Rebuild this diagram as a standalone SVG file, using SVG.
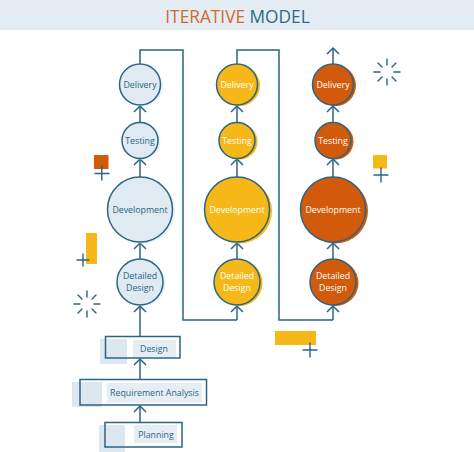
<svg xmlns="http://www.w3.org/2000/svg" width="474" height="452" viewBox="0 0 474 452">
<defs>
<marker id="ah" markerUnits="userSpaceOnUse" markerWidth="16" markerHeight="16" viewBox="-8 -8 16 16" refX="0" refY="0" orient="auto">
<path d="M-6,-6 L0,0 L-6,6" fill="none" stroke="#2b6584" stroke-width="1.5"/>
</marker>
</defs>
<style>
.ln{fill:none;stroke:#2b6584;stroke-width:1.5}
.ar{fill:none;stroke:#2b6584;stroke-width:1.5;marker-end:url(#ah)}
.c1{fill:#dfeaf2;stroke:#2b6584;stroke-width:1.5}
.s1{fill:#e8f1f7}
.c2{fill:#f6b818;stroke:#2b6584;stroke-width:1.5}
.s2{fill:#f6b818}
.c3{fill:#d25a0b;stroke:#2b6584;stroke-width:1.5}
.s3{fill:#d25a0b}
.t{font-family:"Open Sans","Noto Sans",sans-serif;font-size:8.8px;text-anchor:middle}
.t1{fill:#2b6584}
.tw{fill:#ffffff}
.bx{fill:none;stroke:#2b6584;stroke-width:1.5}
.sh{fill:#dce7f0}
.lb{fill:#e6eef4}
.dec{fill:none;stroke:#2b6584;stroke-width:1.4;stroke-linecap:round}
</style>
<rect x="0" y="0" width="474" height="30" fill="#e4edf4"/>
<text x="237.5" y="22.5" font-family="'Open Sans','Noto Sans',sans-serif" font-size="17.3" text-anchor="middle"><tspan fill="#d4682a">ITERATIVE</tspan><tspan fill="#2b6a8c"> MODEL</tspan></text>

<g id="connectors">
<path class="ln" d="M140,64 V50 H183 V320 H237"/>
<path class="ar" d="M237,320 V306"/>
<path class="ln" d="M237,64 V50 H279 V320 H333"/>
<path class="ar" d="M333,320 V306"/>
<path class="ar" d="M333,64 V48"/>
<path class="ar" d="M140,122 V106"/>
<path class="ar" d="M140,177 V159"/>
<path class="ar" d="M140,259 V243"/>
<path class="ar" d="M237,122 V106"/>
<path class="ar" d="M237,177 V159"/>
<path class="ar" d="M237,259 V243"/>
<path class="ar" d="M333,122 V106"/>
<path class="ar" d="M333,177 V159"/>
<path class="ar" d="M333,259 V243"/>
<path class="ar" d="M140,336 V306"/>
<path class="ar" d="M140,379 V359"/>
<path class="ar" d="M140,422 V406"/>
</g>

<g id="c1-delivery"><circle class="s1" cx="142.5" cy="85.5" r="20.5"/><circle class="c1" cx="140" cy="84.5" r="20.5"/><text class="t t1" x="140" y="87.5">Delivery</text></g>
<g id="c1-testing"><circle class="s1" cx="142.5" cy="141.5" r="18"/><circle class="c1" cx="140" cy="140.5" r="18"/><text class="t t1" x="140" y="143.5">Testing</text></g>
<g id="c1-development"><circle class="s1" cx="142.5" cy="211" r="32.5"/><circle class="c1" cx="140" cy="209.5" r="32.5"/><text class="t t1" x="140" y="212.5">Development</text></g>
<g id="c1-detailed"><circle class="s1" cx="142.5" cy="283" r="23"/><circle class="c1" cx="140" cy="282" r="23"/><text class="t t1" x="140" y="279">Detailed</text><text class="t t1" x="140" y="291">Design</text></g>

<g id="c2-delivery"><circle class="s2" cx="239.5" cy="85.5" r="20.5"/><circle class="c2" cx="237" cy="84.5" r="20.5"/><text class="t tw" x="237" y="87.5">Delivery</text></g>
<g id="c2-testing"><circle class="s2" cx="239.5" cy="141.5" r="18"/><circle class="c2" cx="237" cy="140.5" r="18"/><text class="t tw" x="237" y="143.5">Testing</text></g>
<g id="c2-development"><circle class="s2" cx="239.5" cy="211" r="32.5"/><circle class="c2" cx="237" cy="209.5" r="32.5"/><text class="t tw" x="237" y="212.5">Development</text></g>
<g id="c2-detailed"><circle class="s2" cx="239.5" cy="283" r="23"/><circle class="c2" cx="237" cy="282" r="23"/><text class="t tw" x="237" y="279">Detailed</text><text class="t tw" x="237" y="291">Design</text></g>

<g id="c3-delivery"><circle class="s3" cx="335.5" cy="85.5" r="20.5"/><circle class="c3" cx="333" cy="84.5" r="20.5"/><text class="t tw" x="333" y="87.5">Delivery</text></g>
<g id="c3-testing"><circle class="s3" cx="335.5" cy="141.5" r="18"/><circle class="c3" cx="333" cy="140.5" r="18"/><text class="t tw" x="333" y="143.5">Testing</text></g>
<g id="c3-development"><circle class="s3" cx="335.5" cy="211" r="32.5"/><circle class="c3" cx="333" cy="209.5" r="32.5"/><text class="t tw" x="333" y="212.5">Development</text></g>
<g id="c3-detailed"><circle class="s3" cx="335.5" cy="283" r="23"/><circle class="c3" cx="333" cy="282" r="23"/><text class="t tw" x="333" y="279">Detailed</text><text class="t tw" x="333" y="291">Design</text></g>

<g id="design"><rect class="sh" x="100" y="339" width="27" height="25"/><rect class="bx" x="105.5" y="336.5" width="74.5" height="21.5"/><rect class="lb" x="133" y="340" width="43" height="17"/><text class="t t1" x="154" y="351.5">Design</text></g>
<g id="requirement"><rect class="sh" x="72" y="382" width="30" height="25"/><rect class="bx" x="80" y="379.5" width="126.5" height="25.5"/><rect class="lb" x="107" y="383" width="95" height="19.5"/><text class="t t1" x="154.5" y="395.5">Requirement Analysis</text></g>
<g id="planning"><rect class="sh" x="99" y="425" width="26" height="27"/><rect class="bx" x="105" y="422.5" width="77" height="24.5"/><rect class="lb" x="134" y="425" width="43" height="18"/><text class="t t1" x="156" y="438">Planning</text></g>

<g id="decorations">
<rect x="94" y="155" width="14.5" height="14" fill="#d25a0b"/>
<path class="dec" d="M95,173.5 H109 M101.8,166 V180"/>
<rect x="86" y="233" width="11" height="31" fill="#f6b818"/>
<path class="dec" d="M77,260 H89 M83,254 V266"/>
<rect x="373" y="155" width="14" height="13.5" fill="#f6b818"/>
<path class="dec" d="M374,175 H388 M381,168 V182"/>
<rect x="275" y="331" width="41" height="14" fill="#f6b818"/>
<path class="dec" d="M303,350 H317 M310,343 V357"/>
<g transform="translate(87,304)">
<path class="dec" d="M0,-7 V-13 M5,-5 L9,-9 M7,0 H13 M5,5 L9,9 M0,7 V13 M-5,5 L-9,9 M-7,0 H-13 M-5,-5 L-9,-9"/>
</g>
<g transform="translate(387,72)">
<path class="dec" d="M0,-7 V-13 M5,-5 L9,-9 M7,0 H13 M5,5 L9,9 M0,7 V13 M-5,5 L-9,9 M-7,0 H-13 M-5,-5 L-9,-9"/>
</g>
</g>
</svg>
